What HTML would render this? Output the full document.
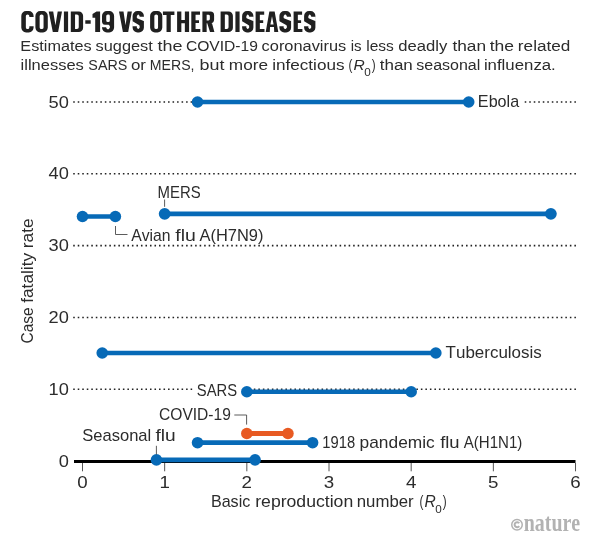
<!DOCTYPE html>
<html><head><meta charset="utf-8"><title>COVID-19 vs other diseases</title>
<style>
html,body{margin:0;padding:0;background:#fff;}
body{width:600px;height:540px;overflow:hidden;font-family:"Liberation Sans",sans-serif;}
svg{display:block;will-change:transform;font-family:"Liberation Sans",sans-serif;font-kerning:none;}
text{fill:#2c2c2c;}
.d{font-size:15.6px;}
.i{font-style:italic;}
.dot{stroke:#222;stroke-width:1.55;stroke-dasharray:1.55 2.965;fill:none;}
.lead{stroke:#4a4a4a;stroke-width:0.9;fill:none;}
.tick{stroke:#555;stroke-width:1;}
</style></head><body>
<svg width="600" height="540" viewBox="0 0 600 540">
<rect width="600" height="540" fill="#fff"/>

<path d="M26.1 11.1H28.8A4.8 4.8 0 0 1 33.6 15.9V27.6A4.8 4.8 0 0 1 28.8 32.4H26.1A4.8 4.8 0 0 1 21.3 27.6V15.9A4.8 4.8 0 0 1 26.1 11.1ZM40.2 11.1H43A4.8 4.8 0 0 1 47.8 15.9V27.6A4.8 4.8 0 0 1 43 32.4H40.2A4.8 4.8 0 0 1 35.4 27.6V15.9A4.8 4.8 0 0 1 40.2 11.1ZM48.7 11.5L53.2 11.5L55.45 25.2L57.7 11.5L62 11.5L58.1 32L52.8 32ZM63.9 11.5H68.1V32H63.9ZM70.8 11.5H78.8A4.3 4.3 0 0 1 83.1 15.8V27.7A4.3 4.3 0 0 1 78.8 32H70.8ZM85.3 20.3H90.7V23.7H85.3ZM95.2 32L95.2 17.8L92.5 17.8L92.5 14.1L96.5 11.5L100.1 11.5L100.1 32ZM106.8 11.1H109.3A4.8 4.8 0 0 1 114.1 15.9V27.6A4.8 4.8 0 0 1 109.3 32.4H106.8A4.8 4.8 0 0 1 102 27.6V15.9A4.8 4.8 0 0 1 106.8 11.1ZM119 11.5L123.5 11.5L125.55 25.2L127.6 11.5L131.9 11.5L128.2 32L122.9 32ZM137.5 11H139A4.9 4.9 0 0 1 143.9 15.9V27.6A4.9 4.9 0 0 1 139 32.5H137.5A4.9 4.9 0 0 1 132.6 27.6V15.9A4.9 4.9 0 0 1 137.5 11ZM154.9 11.1H157.5A4.8 4.8 0 0 1 162.3 15.9V27.6A4.8 4.8 0 0 1 157.5 32.4H154.9A4.8 4.8 0 0 1 150.1 27.6V15.9A4.8 4.8 0 0 1 154.9 11.1ZM162.9 11.5H174.4V15H162.9ZM166.53 11.5H170.78V32H166.53ZM177.1 11.5H181.35V32H177.1ZM184.85 11.5H189.1V32H184.85ZM177.1 20.1H189.1V23.3H177.1ZM191.3 11.5H195.55V32H191.3ZM191.3 11.5H200V14.7H191.3ZM191.3 20.2H199V23H191.3ZM191.3 29H200.3V32H191.3ZM202.4 11.5H206.65V32H202.4ZM202.4 11.5H210.5A3.6 3.6 0 0 1 214.1 15.1V19.6A3.6 3.6 0 0 1 210.5 23.2H202.4ZM207 22.4L211.6 21.8L214.4 32L210 32ZM220.6 11.5H228.6A4.3 4.3 0 0 1 232.9 15.8V27.7A4.3 4.3 0 0 1 228.6 32H220.6ZM235.4 11.5H239.6V32H235.4ZM247 11H248.5A4.9 4.9 0 0 1 253.4 15.9V27.6A4.9 4.9 0 0 1 248.5 32.5H247A4.9 4.9 0 0 1 242.1 27.6V15.9A4.9 4.9 0 0 1 247 11ZM255.6 11.5H259.85V32H255.6ZM255.6 11.5H264.2V14.7H255.6ZM255.6 20.2H263.2V23H255.6ZM255.6 29H264.5V32H255.6ZM265.7 32L269.35 11.5L274.65 11.5L278.3 32ZM284.3 11H286.2A4.9 4.9 0 0 1 291.1 15.9V27.6A4.9 4.9 0 0 1 286.2 32.5H284.3A4.9 4.9 0 0 1 279.4 27.6V15.9A4.9 4.9 0 0 1 284.3 11ZM293.6 11.5H297.85V32H293.6ZM293.6 11.5H302.1V14.7H293.6ZM293.6 20.2H301.1V23H293.6ZM293.6 29H302.4V32H293.6ZM309 11H310.5A4.9 4.9 0 0 1 315.4 15.9V27.6A4.9 4.9 0 0 1 310.5 32.5H309A4.9 4.9 0 0 1 304.1 27.6V15.9A4.9 4.9 0 0 1 309 11Z" fill="#202020"/>
<path d="M27.55 14.4H27.65A1.7 1.7 0 0 1 29.35 16.1V27.4A1.7 1.7 0 0 1 27.65 29.1H27.55A1.7 1.7 0 0 1 25.85 27.4V16.1A1.7 1.7 0 0 1 27.55 14.4ZM27.85 17H34V26.2H27.85ZM41.35 14.4H41.85A1.7 1.7 0 0 1 43.55 16.1V27.4A1.7 1.7 0 0 1 41.85 29.1H41.35A1.7 1.7 0 0 1 39.65 27.4V16.1A1.7 1.7 0 0 1 41.35 14.4ZM75.05 14.4H76.95A1.8 1.8 0 0 1 78.75 16.2V27.3A1.8 1.8 0 0 1 76.95 29.1H75.05ZM107.75 14.5H108.35A1.5 1.5 0 0 1 109.85 16V20.5A1.5 1.5 0 0 1 108.35 22H107.75A1.5 1.5 0 0 1 106.25 20.5V16A1.5 1.5 0 0 1 107.75 14.5ZM101.6 21.7L102 21.7L102.4 23.3L103.5 24.4L105 24.8L108.65 24.8L109.85 26.1L109.85 27.8L108.65 29.2L107.45 29.2L106.25 27.9L106.25 27.2L101.6 27.2ZM136.85 17.9L136.85 15.9L138.05 14.6L138.45 14.6L139.65 15.9L139.65 16.7L144.3 16.7L144.3 21.2L137.65 18.6ZM139.65 25.7L139.65 27.7L138.45 29L138.05 29L136.85 27.7L136.85 26.2L132.2 26.2L132.2 21L138.85 25ZM156.05 14.4H156.35A1.7 1.7 0 0 1 158.05 16.1V27.4A1.7 1.7 0 0 1 156.35 29.1H156.05A1.7 1.7 0 0 1 154.35 27.4V16.1A1.7 1.7 0 0 1 156.05 14.4ZM206.65 14.7H208.45A1.4 1.4 0 0 1 209.85 16.1V19A1.4 1.4 0 0 1 208.45 20.4H206.65ZM224.85 14.4H226.75A1.8 1.8 0 0 1 228.55 16.2V27.3A1.8 1.8 0 0 1 226.75 29.1H224.85ZM246.35 17.9L246.35 15.9L247.55 14.6L247.95 14.6L249.15 15.9L249.15 16.7L253.8 16.7L253.8 21.2L247.15 18.6ZM249.15 25.7L249.15 27.7L247.95 29L247.55 29L246.35 27.7L246.35 26.2L241.7 26.2L241.7 21L248.35 25ZM272 16.2L273.6 24.5L270.4 24.5ZM270.05 27L273.95 27L274.25 32.6L269.75 32.6ZM283.65 17.9L283.65 15.9L284.85 14.6L285.65 14.6L286.85 15.9L286.85 16.7L291.5 16.7L291.5 21.2L284.45 18.6ZM286.85 25.7L286.85 27.7L285.65 29L284.85 29L283.65 27.7L283.65 26.2L279 26.2L279 21L286.05 25ZM308.35 17.9L308.35 15.9L309.55 14.6L309.95 14.6L311.15 15.9L311.15 16.7L315.8 16.7L315.8 21.2L309.15 18.6ZM311.15 25.7L311.15 27.7L309.95 29L309.55 29L308.35 27.7L308.35 26.2L303.7 26.2L303.7 21L310.35 25Z" fill="#fff"/>
<text transform="translate(20.37 51.20) scale(1.0466 1)" font-size="15.5">Estimates</text>
<text transform="translate(95.54 51.20) scale(1.0550 1)" font-size="15.5">suggest</text>
<text transform="translate(157.43 51.20) scale(1.1637 1)" font-size="15.5">the</text>
<text transform="translate(185.91 51.20) scale(1.0090 1)" font-size="15.5">COVID-19</text>
<text transform="translate(261.60 51.20) scale(1.0570 1)" font-size="15.5">coronavirus</text>
<text transform="translate(350.70 51.20) scale(0.9691 1)" font-size="15.5">is</text>
<text transform="translate(366.25 51.20) scale(1.0016 1)" font-size="15.5">less</text>
<text transform="translate(398.30 51.20) scale(1.0735 1)" font-size="15.5">deadly</text>
<text transform="translate(452.44 51.20) scale(1.1166 1)" font-size="15.5">than</text>
<text transform="translate(489.73 51.20) scale(1.1298 1)" font-size="15.5">the</text>
<text transform="translate(517.86 51.20) scale(1.1088 1)" font-size="15.5">related</text>
<text transform="translate(20.60 70.00) scale(1.0649 1)" font-size="15.5">illnesses</text>
<text transform="translate(88.35 70.00) scale(0.9242 1)" font-size="15.5">SARS</text>
<text transform="translate(130.99 70.00) scale(1.0875 1)" font-size="15.5">or</text>
<text transform="translate(149.84 70.00) scale(0.9112 1)" font-size="15.5">MERS,</text>
<text transform="translate(199.55 70.00) scale(1.1549 1)" font-size="15.5">but</text>
<text transform="translate(228.86 70.00) scale(1.1103 1)" font-size="15.5">more</text>
<text transform="translate(272.15 70.00) scale(1.1067 1)" font-size="15.5">infectious</text>
<text transform="translate(379.74 70.00) scale(1.0959 1)" font-size="15.5">than</text>
<text transform="translate(416.25 70.00) scale(1.0334 1)" font-size="15.5">seasonal</text>
<text transform="translate(483.88 70.00) scale(1.0845 1)" font-size="15.5">influenza.</text>
<text transform="translate(348.47 70.00) scale(0.7543 1)" font-size="15.5">(</text>
<text class="i" transform="translate(353.52 70.00) scale(1.0059 1)" font-size="15.5">R</text>
<text transform="translate(364.14 75.60) scale(1.0847 1)" font-size="10.8">0</text>
<text transform="translate(371.73 70.00) scale(0.7543 1)" font-size="15.5">)</text>
<line class="dot" x1="73.22" y1="102.00" x2="576.5" y2="102.00"/>
<line class="dot" x1="73.22" y1="173.80" x2="576.5" y2="173.80"/>
<line class="dot" x1="73.22" y1="245.60" x2="576.5" y2="245.60"/>
<line class="dot" x1="73.22" y1="317.40" x2="576.5" y2="317.40"/>
<line class="dot" x1="73.22" y1="389.20" x2="576.5" y2="389.20"/>
<rect x="474.5" y="92" width="49" height="20" fill="#fff"/>
<rect x="193.5" y="380" width="50" height="20" fill="#fff"/>
<line x1="74" y1="461.5" x2="575.5" y2="461.5" stroke="#000" stroke-width="3"/>
<line class="tick" x1="82.50" y1="463" x2="82.50" y2="471.3"/>
<text class="d" transform="translate(82.40 487.8) scale(1.2 1)" text-anchor="middle">0</text>
<line class="tick" x1="164.67" y1="463" x2="164.67" y2="471.3"/>
<text class="d" transform="translate(164.57 487.8) scale(1.2 1)" text-anchor="middle">1</text>
<line class="tick" x1="246.84" y1="463" x2="246.84" y2="471.3"/>
<text class="d" transform="translate(246.74 487.8) scale(1.2 1)" text-anchor="middle">2</text>
<line class="tick" x1="329.01" y1="463" x2="329.01" y2="471.3"/>
<text class="d" transform="translate(328.91 487.8) scale(1.2 1)" text-anchor="middle">3</text>
<line class="tick" x1="411.18" y1="463" x2="411.18" y2="471.3"/>
<text class="d" transform="translate(411.08 487.8) scale(1.2 1)" text-anchor="middle">4</text>
<line class="tick" x1="493.35" y1="463" x2="493.35" y2="471.3"/>
<text class="d" transform="translate(493.25 487.8) scale(1.2 1)" text-anchor="middle">5</text>
<line class="tick" x1="575.52" y1="463" x2="575.52" y2="471.3"/>
<text class="d" transform="translate(575.42 487.8) scale(1.2 1)" text-anchor="middle">6</text>
<text class="d" transform="translate(68.8 107.50) scale(1.17 1)" text-anchor="end">50</text>
<text class="d" transform="translate(68.8 179.30) scale(1.17 1)" text-anchor="end">40</text>
<text class="d" transform="translate(68.8 251.10) scale(1.17 1)" text-anchor="end">30</text>
<text class="d" transform="translate(68.8 322.90) scale(1.17 1)" text-anchor="end">20</text>
<text class="d" transform="translate(68.8 394.70) scale(1.17 1)" text-anchor="end">10</text>
<text class="d" transform="translate(68.8 466.60) scale(1.17 1)" text-anchor="end">0</text>
<line x1="197.54" y1="102" x2="468.70" y2="102" stroke="#076ab7" stroke-width="4.7"/>
<circle cx="197.54" cy="102" r="5.8" fill="#076ab7"/><circle cx="468.70" cy="102" r="5.8" fill="#076ab7"/>
<line x1="164.67" y1="213.85" x2="550.87" y2="213.85" stroke="#076ab7" stroke-width="4.7"/>
<circle cx="164.67" cy="213.85" r="5.9" fill="#076ab7"/><circle cx="550.87" cy="213.85" r="5.9" fill="#076ab7"/>
<line x1="82.50" y1="216.5" x2="115.37" y2="216.5" stroke="#076ab7" stroke-width="4.7"/>
<circle cx="82.50" cy="216.5" r="5.8" fill="#076ab7"/><circle cx="115.37" cy="216.5" r="5.8" fill="#076ab7"/>
<line x1="102.22" y1="353" x2="435.83" y2="353" stroke="#076ab7" stroke-width="4.7"/>
<circle cx="102.22" cy="353" r="5.8" fill="#076ab7"/><circle cx="435.83" cy="353" r="5.8" fill="#076ab7"/>
<line x1="246.84" y1="391.75" x2="411.18" y2="391.75" stroke="#076ab7" stroke-width="4.7"/>
<circle cx="246.84" cy="391.75" r="5.8" fill="#076ab7"/><circle cx="411.18" cy="391.75" r="5.8" fill="#076ab7"/>
<line x1="197.54" y1="442.7" x2="312.58" y2="442.7" stroke="#076ab7" stroke-width="4.7"/>
<circle cx="197.54" cy="442.7" r="5.8" fill="#076ab7"/><circle cx="312.58" cy="442.7" r="5.8" fill="#076ab7"/>
<line x1="156.45" y1="459.9" x2="255.06" y2="459.9" stroke="#076ab7" stroke-width="4.8"/>
<circle cx="156.45" cy="459.9" r="5.8" fill="#076ab7"/><circle cx="255.06" cy="459.9" r="5.8" fill="#076ab7"/>
<line x1="246.84" y1="433.5" x2="287.93" y2="433.5" stroke="#e85a22" stroke-width="4.9"/>
<circle cx="246.84" cy="433.5" r="5.8" fill="#e85a22"/><circle cx="287.93" cy="433.5" r="5.8" fill="#e85a22"/>
<text transform="translate(477.87 106.60) scale(1.0099 1)" font-size="16.0">Ebola</text>
<text transform="translate(157.58 197.50) scale(0.9326 1)" font-size="16.0">MERS</text>
<text transform="translate(131.22 240.70) scale(0.9819 1)" font-size="16.0">Avian</text>
<text transform="translate(175.22 240.70) scale(1.2172 1)" font-size="16.0">flu</text>
<text transform="translate(199.47 240.70) scale(1.0292 1)" font-size="16.0">A(H7N9)</text>
<text transform="translate(445.62 358.10) scale(1.0605 1)" font-size="16.0">Tuberculosis</text>
<text transform="translate(196.83 396.30) scale(0.9262 1)" font-size="16.0">SARS</text>
<text transform="translate(159.01 420.40) scale(0.9747 1)" font-size="16.0">COVID-19</text>
<text transform="translate(82.25 440.90) scale(1.0351 1)" font-size="16.0">Seasonal</text>
<text transform="translate(155.53 440.90) scale(1.1980 1)" font-size="16.0">flu</text>
<text transform="translate(322.27 447.50) scale(0.9234 1)" font-size="16.0">1918</text>
<text transform="translate(359.58 447.50) scale(1.0836 1)" font-size="16.0">pandemic</text>
<text transform="translate(440.14 447.50) scale(1.1532 1)" font-size="16.0">flu</text>
<text transform="translate(463.77 447.50) scale(0.9410 1)" font-size="16.0">A(H1N1)</text>
<path class="lead" d="M164.6 199.5V206.8"/>
<path class="lead" d="M115.5 226V234.5H127.5"/>
<path class="lead" d="M234.3 415H246.6V424.6"/>
<path class="lead" d="M156.4 445.8V454.5"/>
<text transform="translate(210.88 507.40) scale(1.0083 1)" font-size="16.0">Basic</text>
<text transform="translate(255.23 507.40) scale(1.1020 1)" font-size="16.0">reproduction</text>
<text transform="translate(356.79 507.40) scale(1.0487 1)" font-size="16.0">number</text>
<text transform="translate(419.57 507.40) scale(0.7308 1)" font-size="16.0">(</text>
<text class="i" transform="translate(424.62 507.40) scale(0.9744 1)" font-size="16.0">R</text>
<text transform="translate(435.24 513.00) scale(1.0847 1)" font-size="10.8">0</text>
<text transform="translate(442.83 507.40) scale(0.7308 1)" font-size="16.0">)</text>
<text transform="translate(32.90 343.49) rotate(-90) scale(0.9685 1)" font-size="16.0">Case</text>
<text transform="translate(32.90 302.85) rotate(-90) scale(1.0830 1)" font-size="16.0">fatality</text>
<text transform="translate(32.90 248.25) rotate(-90) scale(1.0854 1)" font-size="16.0">rate</text>
<circle cx="517" cy="524.7" r="5.25" fill="none" stroke="#b2b2b2" stroke-width="1.5"/>
<path d="M519.2 523.3A2.5 2.5 0 1 0 519.2 526.1" fill="none" stroke="#b2b2b2" stroke-width="2"/>
<text transform="translate(523.76 530.60) scale(0.8200 1)" font-size="24.3" font-family="Liberation Serif,serif" font-weight="bold" style="fill:#b2b2b2">nature</text>
</svg></body></html>
